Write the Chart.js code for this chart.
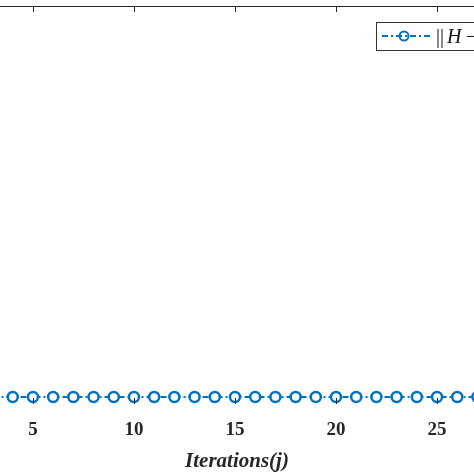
<!DOCTYPE html>
<html><head><meta charset="utf-8">
<script src="https://cdn.jsdelivr.net/npm/chart.js@4"></script>
<style>html,body{margin:0;padding:0;background:#fff}#wrap{width:474px;height:474px}</style>
</head><body><div id="wrap"><canvas id="c"></canvas></div>
<script>
const iterations = [1,2,3,4,5,6,7,8,9,10,11,12,13,14,15,16,17,18,19,20,21,22,23,24,25,26,27,28,29,30];
const errorValues = [0,0,0,0,0,0,0,0,0,0,0,0,0,0,0,0,0,0,0,0,0,0,0,0,0,0,0,0,0,0];
const xTicks = [5,10,15,20,25];
const blue = '#0072BD';

const frame = {
  id: 'frame',
  afterDraw(chart) {
    const {ctx, chartArea: a, scales: {x}} = chart;
    ctx.save();
    ctx.strokeStyle = '#262626';
    ctx.lineWidth = 1;
    ctx.beginPath();
    ctx.moveTo(a.left, a.top + 0.5); ctx.lineTo(a.right, a.top + 0.5);
    xTicks.forEach(t => {
      const px = Math.round(x.getPixelForValue(t)) + 0.5;
      ctx.moveTo(px, a.top); ctx.lineTo(px, a.top + 6);
      ctx.moveTo(px, a.bottom); ctx.lineTo(px, a.bottom - 6);
    });
    ctx.stroke();
    // legend box
    ctx.fillStyle = '#fff';
    ctx.fillRect(376, 22, 110, 28);
    ctx.strokeStyle = '#333';
    ctx.strokeRect(376.5, 22.5, 110, 28);
    ctx.strokeStyle = blue; ctx.lineWidth = 2;
    ctx.setLineDash([6, 3, 2, 3]);
    ctx.beginPath(); ctx.moveTo(382, 36); ctx.lineTo(430, 36); ctx.stroke();
    ctx.setLineDash([]);
    ctx.beginPath(); ctx.arc(404, 36, 4.5, 0, Math.PI * 2); ctx.stroke();
    ctx.fillStyle = '#111';
    ctx.font = '20px "Liberation Serif"';
    ctx.fillText('||', 436, 43);
    ctx.font = 'italic 20px "Liberation Serif"';
    ctx.fillText('H', 447, 43);
    ctx.font = '20px "Liberation Serif"';
    ctx.fillText('\u2212', 466, 43);
    ctx.restore();
  }
};

new Chart(document.getElementById('c'), {
  type: 'line',
  data: {
    labels: iterations,
    datasets: [{
      data: iterations.map((j, i) => ({x: j, y: errorValues[i]})),
      borderColor: blue,
      borderWidth: 2,
      borderDash: [6, 3, 2, 3],
      pointRadius: 5,
      pointBorderWidth: 2.5,
      pointBackgroundColor: '#fff',
      pointBorderColor: blue,
      clip: false
    }]
  },
  options: {
    responsive: true,
    maintainAspectRatio: false,
    animation: false,
    layout: {padding: {top: 6, left: 0, right: 0, bottom: 0}, autoPadding: false},
    plugins: {legend: {display: false}, tooltip: {enabled: false}},
    scales: {
      x: {
        type: 'linear', min: 3.37, max: 26.83,
        grid: {display: false},
        border: {display: false},
        afterBuildTicks: s => { s.ticks = xTicks.map(v => ({value: v})); },
        afterFit: s => { s.paddingLeft = 0; s.paddingRight = 0; },
        ticks: {color: '#262626', font: {family: 'Liberation Serif', size: 19, weight: 'bold'}, padding: 7},
        title: {display: true, text: 'Iterations(j)', color: '#262626', padding: {top: 0, bottom: 0},
                font: {family: 'Liberation Serif', size: 21, weight: 'bold', style: 'italic'}}
      },
      y: {display: false, min: -0.18, max: 10}
    }
  },
  plugins: [frame]
});
</script></body></html>
